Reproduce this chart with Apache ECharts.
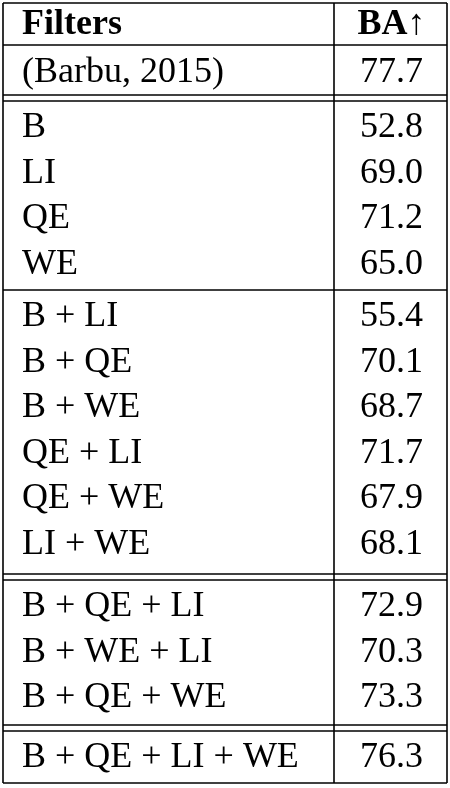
<!DOCTYPE html>
<html><head><meta charset="utf-8">
<script src="https://cdn.jsdelivr.net/npm/echarts@6/dist/echarts.min.js"></script>
<style>html,body{margin:0;padding:0;background:#fff}#c{width:450px;height:788px}</style>
</head><body><div id="c"></div>
<script>
const headers = ['Filters', 'BA↑'];
const filters = ['(Barbu, 2015)', 'B', 'LI', 'QE', 'WE', 'B + LI', 'B + QE', 'B + WE', 'QE + LI', 'QE + WE', 'LI + WE', 'B + QE + LI', 'B + WE + LI', 'B + QE + WE', 'B + QE + LI + WE'];
const scores = ['77.7', '52.8', '69.0', '71.2', '65.0', '55.4', '70.1', '68.7', '71.7', '67.9', '68.1', '72.9', '70.3', '73.3', '76.3'];
const groupSizes = [1, 4, 6, 3, 1];

const L = 3, R = 447, D = 334, TOP = 3, HEAD = 45, STEP = 45.5;
const groupStarts = [HEAD, 101, 290, 580, 731];
const doubles = [[95, 101], [574, 580], [725, 731]];
const singles = [TOP, HEAD, 290, 783];

const cells = [];
cells.push({ y: (TOP + HEAD) / 2 + 1, a: headers[0], b: headers[1], bold: true });
let k = 0;
groupSizes.forEach((n, g) => {
  for (let i = 0; i < n; i++) {
    const y = g === 0 ? 73 : groupStarts[g] + 27 + i * STEP;
    cells.push({ y, a: filters[k], b: scores[k], bold: false });
    k++;
  }
});
const hLines = singles.concat(...doubles);
const bottom = 783;

const chart = echarts.init(document.getElementById('c'), null, { renderer: 'canvas' });
const font = '"Liberation Serif", "DejaVu Serif", serif';
chart.setOption({
  animation: false,
  grid: { left: 0, right: 0, top: 0, bottom: 0 },
  xAxis: { type: 'value', min: 0, max: 450, show: false },
  yAxis: { type: 'value', min: 0, max: 788, inverse: true, show: false },
  series: [
    {
      type: 'custom', data: cells.map((c, i) => [i, c.y]),
      renderItem: (p, api) => {
        const c = cells[api.value(0)];
        const pA = api.coord([22, c.y]), pB = api.coord([(D + R) / 2 + 1, c.y]);
        const st = { fill: '#000', font: (c.bold ? 'bold ' : '') + '36px ' + font, textVerticalAlign: 'middle' };
        return { type: 'group', children: [
          { type: 'text', style: Object.assign({ x: pA[0], y: pA[1], text: c.a, textAlign: 'left' }, st) },
          { type: 'text', style: Object.assign({ x: pB[0], y: pB[1], text: c.b, textAlign: 'center' }, st) }
        ] };
      }
    },
    {
      type: 'custom', data: hLines.map((y, i) => [i, y]),
      renderItem: (p, api) => {
        const y = api.value(1);
        const a = api.coord([L, y]), b = api.coord([R, y]);
        return { type: 'line', shape: { x1: a[0], y1: a[1], x2: b[0], y2: b[1] }, style: { stroke: '#000', lineWidth: 1.6 } };
      }
    },
    {
      type: 'custom', data: [[L], [D], [R]],
      renderItem: (p, api) => {
        const x = api.value(0);
        const a = api.coord([x, TOP]), b = api.coord([x, bottom]);
        return { type: 'line', shape: { x1: a[0], y1: a[1], x2: b[0], y2: b[1] }, style: { stroke: '#000', lineWidth: 1.6 } };
      }
    }
  ]
});
</script></body></html>
